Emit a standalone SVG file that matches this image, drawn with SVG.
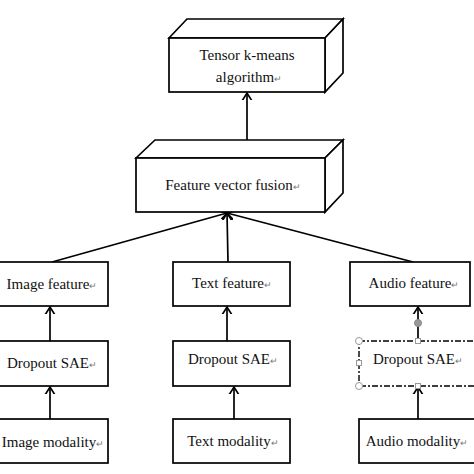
<svg xmlns="http://www.w3.org/2000/svg" width="474" height="474" viewBox="0 0 474 474">
<style>
.box{fill:#fff;stroke:#000;stroke-width:1.7}
.face{fill:#fff;stroke:#000;stroke-width:1.7;stroke-linejoin:miter}
.dash{fill:#fff;stroke:#000;stroke-width:1.4;stroke-dasharray:6 2 2 2}
.lbl{font-family:"Liberation Serif","Times New Roman",serif;font-size:15px;fill:#111;text-anchor:middle}
.pm{font-size:9px;fill:#777}
.con{fill:none;stroke:#000;stroke-width:1.7}
.hdl{fill:#fff;stroke:#999;stroke-width:1}
</style>
<defs>
<marker id="arr" markerUnits="userSpaceOnUse" markerWidth="14" markerHeight="14" viewBox="-7 -7 14 14" refX="0" refY="0" orient="auto">
<path d="M-8,-5 L0,0 L-8,5" fill="none" stroke="#000" stroke-width="1.7"/>
</marker>
</defs>
<rect width="474" height="474" fill="#fff"/>
<g id="connectors">
<line class="con" x1="247" y1="140" x2="247" y2="93" marker-end="url(#arr)"/>
<line class="con" x1="52" y1="262" x2="227" y2="213" marker-end="url(#arr)"/>
<line class="con" x1="228" y1="262" x2="227" y2="213" marker-end="url(#arr)"/>
<line class="con" x1="413" y1="262" x2="227" y2="213" marker-end="url(#arr)"/>
<line class="con" x1="50" y1="341" x2="50" y2="307" marker-end="url(#arr)"/>
<line class="con" x1="50" y1="419" x2="50" y2="387" marker-end="url(#arr)"/>
<line class="con" x1="227" y1="341" x2="227" y2="307" marker-end="url(#arr)"/>
<line class="con" x1="234" y1="419" x2="234" y2="387" marker-end="url(#arr)"/>
<line class="con" x1="418" y1="341" x2="418" y2="307" marker-end="url(#arr)"/>
<line class="con" x1="418" y1="419" x2="418" y2="387" marker-end="url(#arr)"/>
</g>
<g id="tensor">
<polygon class="face" points="169,38 187,19 343,19 325,38"/>
<polygon class="face" points="325,38 343,19 343,73 325,92"/>
<rect class="box" x="169" y="38" width="156" height="54"/>
<text class="lbl" x="247" y="60">Tensor k-means</text>
<text class="lbl" x="249" y="82">algorithm<tspan class="pm">↵</tspan></text>
</g>
<g id="fusion">
<polygon class="face" points="136,158 155,140 343,140 325,158"/>
<polygon class="face" points="325,158 343,140 343,193 325,212"/>
<rect class="box" x="136" y="158" width="189" height="54"/>
<text class="lbl" x="233" y="190">Feature vector fusion<tspan class="pm">↵</tspan></text>
</g>
<g id="image-feature">
<rect class="box" x="-5" y="262" width="113" height="44"/>
<text class="lbl" x="52" y="289">Image feature<tspan class="pm">↵</tspan></text>
</g>
<g id="image-sae">
<rect class="box" x="-5" y="341" width="113" height="45"/>
<text class="lbl" x="52" y="368">Dropout SAE<tspan class="pm">↵</tspan></text>
</g>
<g id="image-modality">
<rect class="box" x="-5" y="419" width="113" height="44"/>
<text class="lbl" x="53" y="447">Image modality<tspan class="pm">↵</tspan></text>
</g>
<g id="text-feature">
<rect class="box" x="173" y="262" width="117" height="44"/>
<text class="lbl" x="232" y="288">Text feature<tspan class="pm">↵</tspan></text>
</g>
<g id="text-sae">
<rect class="box" x="173" y="341" width="117" height="45"/>
<text class="lbl" x="233" y="364">Dropout SAE<tspan class="pm">↵</tspan></text>
</g>
<g id="text-modality">
<rect class="box" x="173" y="419" width="117" height="44"/>
<text class="lbl" x="233" y="446">Text modality<tspan class="pm">↵</tspan></text>
</g>
<g id="audio-feature">
<rect class="box" x="350" y="262" width="120" height="44"/>
<text class="lbl" x="414" y="288">Audio feature<tspan class="pm">↵</tspan></text>
</g>
<g id="audio-sae">
<rect class="dash" x="359" y="341" width="125" height="45"/>
<text class="lbl" x="418" y="364">Dropout SAE<tspan class="pm">↵</tspan></text>
<circle cx="418" cy="323" r="3.5" fill="#999" stroke="#888" stroke-width="1"/>
<circle class="hdl" cx="359" cy="341" r="3.5"/>
<circle class="hdl" cx="359" cy="386" r="3.5"/>
<rect class="hdl" x="415.5" y="338.5" width="5" height="5"/>
<rect class="hdl" x="415.5" y="383.5" width="5" height="5"/>
<rect class="hdl" x="356.5" y="360.5" width="5" height="5"/>
</g>
<g id="audio-modality">
<rect class="box" x="359" y="419" width="125" height="44"/>
<text class="lbl" x="417" y="446">Audio modality<tspan class="pm">↵</tspan></text>
</g>
</svg>
